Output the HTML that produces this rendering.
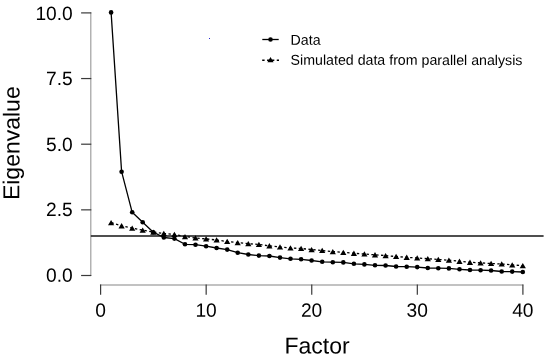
<!DOCTYPE html>
<html lang="en"><head><meta charset="utf-8"><title>Scree plot</title>
<style>html,body{margin:0;padding:0;background:#fff}body{width:550px;height:360px;overflow:hidden}</style></head>
<body>
<svg width="550" height="360" viewBox="0 0 550 360" style="display:block;font-family:'Liberation Sans',sans-serif">
<rect width="550" height="360" fill="#fff"/>
<g stroke="#8d8d8d" stroke-width="1.0" fill="none">
<path d="M90.84 12.35V276.05"/>
<path d="M99.95 285.0H523.35" stroke="#858585"/>
</g>
<g stroke="#3a3a3a" stroke-width="1.2" fill="none">
<path d="M81.1 275.50H91.3"/>
<path d="M81.1 209.85H91.3"/>
<path d="M81.1 144.20H91.3"/>
<path d="M81.1 78.55H91.3"/>
<path d="M81.1 12.90H91.3"/>
<path d="M100.60 284.5V294.8"/>
<path d="M206.17 284.5V294.8"/>
<path d="M311.75 284.5V294.8"/>
<path d="M417.32 284.5V294.8"/>
<path d="M522.90 284.5V294.8"/>
</g>
<path d="M90.84 236.0H543.6" stroke="#151515" stroke-width="1.38" fill="none"/>
<polyline points="111.1,222.6 121.6,225.8 132.2,228.2 142.7,230.1 153.3,232.1 163.8,233.5 174.4,234.4 185.0,236.6 195.5,237.9 206.1,238.9 216.6,240.0 227.2,241.5 237.7,242.7 248.3,243.6 258.9,244.5 269.4,245.8 280.0,247.0 290.5,248.0 301.1,248.5 311.6,249.6 322.2,250.5 332.8,251.6 343.3,252.4 353.9,253.3 364.4,254.0 375.0,254.8 385.6,255.6 396.1,256.5 406.7,257.3 417.2,258.0 427.8,258.7 438.3,259.5 448.9,260.2 459.5,261.3 470.0,262.3 480.6,262.9 491.1,263.5 501.7,264.0 512.2,264.9 522.8,265.7" fill="none" stroke="#000" stroke-width="1.3" stroke-dasharray="2.4 2.458" stroke-dashoffset="4.556"/>
<polyline points="111.1,12.4 121.6,171.7 132.2,212.3 142.7,222.3 153.3,232.2 163.8,237.5 174.4,238.6 185.0,244.3 195.5,244.7 206.1,246.2 216.6,248.0 227.2,249.6 237.7,252.7 248.3,254.5 258.9,255.6 269.4,256.0 280.0,257.6 290.5,258.8 301.1,259.3 311.6,260.5 322.2,261.8 332.8,262.2 343.3,262.4 353.9,263.8 364.4,264.4 375.0,265.3 385.6,265.5 396.1,266.5 406.7,266.7 417.2,267.1 427.8,268.0 438.3,268.2 448.9,268.4 459.5,269.3 470.0,270.0 480.6,270.2 491.1,270.5 501.7,271.5 512.2,271.6 522.8,272.0" fill="none" stroke="#000" stroke-width="1.3" stroke-linejoin="round"/>
<g fill="#000">
<path d="M111.1 219.9L114.2 225.2H108.0Z"/>
<path d="M121.6 223.1L124.7 228.4H118.5Z"/>
<path d="M132.2 225.5L135.3 230.8H129.1Z"/>
<path d="M142.7 227.4L145.8 232.7H139.6Z"/>
<path d="M153.3 229.4L156.4 234.7H150.2Z"/>
<path d="M163.8 230.8L166.9 236.1H160.7Z"/>
<path d="M174.4 231.7L177.5 237.0H171.3Z"/>
<path d="M185.0 233.9L188.1 239.2H181.9Z"/>
<path d="M195.5 235.2L198.6 240.5H192.4Z"/>
<path d="M206.1 236.2L209.2 241.5H203.0Z"/>
<path d="M216.6 237.3L219.7 242.6H213.5Z"/>
<path d="M227.2 238.8L230.3 244.1H224.1Z"/>
<path d="M237.7 240.0L240.8 245.3H234.6Z"/>
<path d="M248.3 240.9L251.4 246.2H245.2Z"/>
<path d="M258.9 241.8L262.0 247.1H255.8Z"/>
<path d="M269.4 243.1L272.5 248.4H266.3Z"/>
<path d="M280.0 244.3L283.1 249.6H276.9Z"/>
<path d="M290.5 245.3L293.6 250.6H287.4Z"/>
<path d="M301.1 245.8L304.2 251.1H298.0Z"/>
<path d="M311.6 246.9L314.8 252.2H308.5Z"/>
<path d="M322.2 247.8L325.3 253.1H319.1Z"/>
<path d="M332.8 248.9L335.9 254.2H329.7Z"/>
<path d="M343.3 249.7L346.4 255.0H340.2Z"/>
<path d="M353.9 250.6L357.0 255.9H350.8Z"/>
<path d="M364.4 251.3L367.5 256.6H361.3Z"/>
<path d="M375.0 252.1L378.1 257.4H371.9Z"/>
<path d="M385.6 252.9L388.7 258.2H382.5Z"/>
<path d="M396.1 253.8L399.2 259.1H393.0Z"/>
<path d="M406.7 254.6L409.8 259.9H403.6Z"/>
<path d="M417.2 255.3L420.3 260.6H414.1Z"/>
<path d="M427.8 256.0L430.9 261.3H424.7Z"/>
<path d="M438.3 256.8L441.4 262.1H435.2Z"/>
<path d="M448.9 257.5L452.0 262.8H445.8Z"/>
<path d="M459.5 258.6L462.6 263.9H456.4Z"/>
<path d="M470.0 259.6L473.1 264.9H466.9Z"/>
<path d="M480.6 260.2L483.7 265.5H477.5Z"/>
<path d="M491.1 260.8L494.2 266.1H488.0Z"/>
<path d="M501.7 261.3L504.8 266.6H498.6Z"/>
<path d="M512.2 262.2L515.3 267.5H509.1Z"/>
<path d="M522.8 263.0L525.9 268.3H519.7Z"/>
<circle cx="111.1" cy="12.4" r="2.3"/>
<circle cx="121.6" cy="171.7" r="2.3"/>
<circle cx="132.2" cy="212.3" r="2.3"/>
<circle cx="142.7" cy="222.3" r="2.3"/>
<circle cx="153.3" cy="232.2" r="2.3"/>
<circle cx="163.8" cy="237.5" r="2.3"/>
<circle cx="174.4" cy="238.6" r="2.3"/>
<circle cx="185.0" cy="244.3" r="2.3"/>
<circle cx="195.5" cy="244.7" r="2.3"/>
<circle cx="206.1" cy="246.2" r="2.3"/>
<circle cx="216.6" cy="248.0" r="2.3"/>
<circle cx="227.2" cy="249.6" r="2.3"/>
<circle cx="237.7" cy="252.7" r="2.3"/>
<circle cx="248.3" cy="254.5" r="2.3"/>
<circle cx="258.9" cy="255.6" r="2.3"/>
<circle cx="269.4" cy="256.0" r="2.3"/>
<circle cx="280.0" cy="257.6" r="2.3"/>
<circle cx="290.5" cy="258.8" r="2.3"/>
<circle cx="301.1" cy="259.3" r="2.3"/>
<circle cx="311.6" cy="260.5" r="2.3"/>
<circle cx="322.2" cy="261.8" r="2.3"/>
<circle cx="332.8" cy="262.2" r="2.3"/>
<circle cx="343.3" cy="262.4" r="2.3"/>
<circle cx="353.9" cy="263.8" r="2.3"/>
<circle cx="364.4" cy="264.4" r="2.3"/>
<circle cx="375.0" cy="265.3" r="2.3"/>
<circle cx="385.6" cy="265.5" r="2.3"/>
<circle cx="396.1" cy="266.5" r="2.3"/>
<circle cx="406.7" cy="266.7" r="2.3"/>
<circle cx="417.2" cy="267.1" r="2.3"/>
<circle cx="427.8" cy="268.0" r="2.3"/>
<circle cx="438.3" cy="268.2" r="2.3"/>
<circle cx="448.9" cy="268.4" r="2.3"/>
<circle cx="459.5" cy="269.3" r="2.3"/>
<circle cx="470.0" cy="270.0" r="2.3"/>
<circle cx="480.6" cy="270.2" r="2.3"/>
<circle cx="491.1" cy="270.5" r="2.3"/>
<circle cx="501.7" cy="271.5" r="2.3"/>
<circle cx="512.2" cy="271.6" r="2.3"/>
<circle cx="522.8" cy="272.0" r="2.3"/>
</g>
<path d="M262.3 39.5H278.7" stroke="#000" stroke-width="1.3"/>
<circle cx="270.5" cy="39.5" r="2.3" fill="#000"/>
<path d="M262.2 60.25H279" stroke="#000" stroke-width="1.3" stroke-dasharray="2.4 2.458"/>
<path d="M270.5 57.0L273.6 62.3H267.4Z" fill="#000"/>
<rect x="209" y="38" width="1" height="1" fill="#2a2ad0"/>
<g font-size="14.2px" fill="#000">
<text transform="translate(290.6 44.7) rotate(0.04)">Data</text>
<text transform="translate(290.6 64.8) rotate(0.03)">Simulated data from parallel analysis</text>
</g>
<g font-size="19.2px" fill="#000" text-anchor="end">
<text transform="translate(72.8 20.0) rotate(0.04)">10.0</text>
<text transform="translate(72.8 85.1) rotate(0.04)">7.5</text>
<text transform="translate(72.8 150.9) rotate(0.04)">5.0</text>
<text transform="translate(72.8 216.1) rotate(0.04)">2.5</text>
<text transform="translate(72.8 281.7) rotate(0.04)">0.0</text>
</g>
<g font-size="19.2px" fill="#000" text-anchor="middle">
<text transform="translate(100.5 316.7) rotate(0.04)">0</text>
<text transform="translate(206.1 316.7) rotate(0.04)">10</text>
<text transform="translate(311.6 316.7) rotate(0.04)">20</text>
<text transform="translate(417.2 316.7) rotate(0.04)">30</text>
<text transform="translate(522.8 316.7) rotate(0.04)">40</text>
</g>
<g font-size="23px" fill="#000" text-anchor="middle">
<text transform="translate(317.1 353.6) rotate(0.04)">Factor</text>
<text transform="translate(19.4 143.2) rotate(-89.95)">Eigenvalue</text>
</g>
</svg>
</body></html>
